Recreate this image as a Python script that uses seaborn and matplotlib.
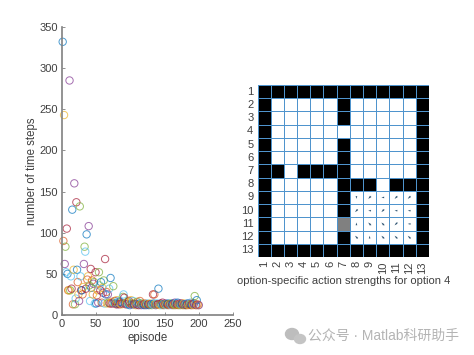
import matplotlib
matplotlib.use('Agg')
import matplotlib.pyplot as plt
from matplotlib.patches import Ellipse
import seaborn as sns
import numpy as np
import pandas as pd

sns.set_style('white')
plt.rcParams['font.family'] = ['Liberation Sans', 'Noto Sans CJK SC', 'DejaVu Sans']

# number of time steps for episodes 1..200
steps_1_40 = [332, 90, 243, 62, 83, 52, 105, 50, 30, 30,
              285, 30, 47, 32, 128, 13, 55, 160, 13, 20,
              137, 55, 40, 25, 17, 132, 47, 30, 30, 25,
              34, 62, 83, 77, 32, 98, 43, 47, 108, 36]
steps_41_80 = [17, 56, 33, 42, 25, 38, 40, 14, 52, 14,
               24, 30, 15, 52, 36, 30, 40, 15, 33, 27,
               42, 14, 68, 25, 28, 14, 25, 15, 32, 14,
               45, 14, 16, 14, 35, 15, 17, 14, 13, 18]
steps_81_120 = [13, 14, 17, 13, 16, 14, 13, 14, 22, 25,
                21, 14, 13, 15, 13, 16, 13, 17, 12, 14,
                18, 13, 14, 17, 13, 13, 14, 12, 13, 16,
                13, 12, 14, 17, 13, 12, 14, 13, 13, 12]
steps_121_160 = [14, 13, 12, 13, 14, 13, 12, 13, 14, 13,
                 12, 13, 25, 14, 25, 13, 12, 13, 14, 13,
                 32, 13, 12, 14, 13, 12, 15, 13, 12, 13,
                 14, 13, 12, 13, 14, 12, 13, 13, 14, 12]
steps_161_200 = [13, 14, 12, 13, 15, 12, 14, 13, 15, 12,
                 13, 14, 12, 13, 14, 13, 12, 14, 13, 12,
                 13, 12, 14, 13, 12, 14, 13, 15, 12, 13,
                 14, 12, 14, 23, 13, 12, 18, 13, 12, 12]
steps = steps_1_40 + steps_41_80 + steps_81_120 + steps_121_160 + steps_161_200
episodes = list(range(1, 201))
matlab_colors = ['#0072BD', '#D95319', '#EDB120', '#7E2F8E', '#77AC30', '#4DBEEE', '#A2142F']

# room map for option 4: 0 wall, 1 free, 0.5 the goal cell
room = [[0, 0, 0, 0, 0, 0, 0, 0, 0, 0, 0, 0, 0],
        [0, 1, 1, 1, 1, 1, 0, 1, 1, 1, 1, 1, 0],
        [0, 1, 1, 1, 1, 1, 0, 1, 1, 1, 1, 1, 0],
        [0, 1, 1, 1, 1, 1, 1, 1, 1, 1, 1, 1, 0],
        [0, 1, 1, 1, 1, 1, 0, 1, 1, 1, 1, 1, 0],
        [0, 1, 1, 1, 1, 1, 0, 1, 1, 1, 1, 1, 0],
        [0, 0, 1, 0, 0, 0, 0, 1, 1, 1, 1, 1, 0],
        [0, 1, 1, 1, 1, 1, 0, 0, 0, 1, 0, 0, 0],
        [0, 1, 1, 1, 1, 1, 0, 1, 1, 1, 1, 1, 0],
        [0, 1, 1, 1, 1, 1, 0, 1, 1, 1, 1, 1, 0],
        [0, 1, 1, 1, 1, 1, 0.5, 1, 1, 1, 1, 1, 0],
        [0, 1, 1, 1, 1, 1, 0, 1, 1, 1, 1, 1, 0],
        [0, 0, 0, 0, 0, 0, 0, 0, 0, 0, 0, 0, 0]]
grid_labels = [str(i) for i in range(1, 14)]

# action arrows in the lower right room
arrow_col = [8, 9, 10, 11, 12] * 4
arrow_row = [9] * 5 + [10] * 5 + [11] * 5 + [12] * 5
arrow_u = [0, -1, -1, -1, -1,
           -1, -1, -1, -1, -1,
           0, -1, -1, -1, -1,
           -1, 0, -1, -1, -1]
arrow_v = [-1, -1, 0, -1, -1,
           -1, 0, -1, 0, 0,
           1, 1, 1, -1, 0,
           1, 1, 1, 1, 1]

text_color = '#404040'
axis_color = '#808080'

fig = plt.figure(figsize=(4.74, 3.55), dpi=100)

# left: time steps per episode
ax = fig.add_axes([62 / 474, 1 - 315 / 355, 171 / 474, 288 / 355])
df = pd.DataFrame({'episode': episodes, 'steps': steps})
df['c'] = (df['episode'] - 1) % 7
sns.scatterplot(data=df, x='episode', y='steps', hue='c', palette=matlab_colors,
                legend=False, s=28, ax=ax, clip_on=False)
pts = ax.collections[0]
pts.set_edgecolors(pts.get_facecolors())
pts.set_facecolors('none')
pts.set_linewidths(0.7)
pts.set_alpha(0.7)
ax.set_xlim(0, 250)
ax.set_ylim(0, 350)
ax.set_xticks(range(0, 251, 50))
ax.set_yticks(range(0, 351, 50))
sns.despine(ax=ax)
for s in ['left', 'bottom']:
    ax.spines[s].set_color(axis_color)
    ax.spines[s].set_linewidth(1.2)
ax.tick_params(direction='in', length=2, width=0.6, color=axis_color,
               labelcolor=text_color, labelsize=8, pad=3, left=True, bottom=True)
ax.set_xlabel('episode', fontsize=8.3, color=text_color, labelpad=2)
ax.set_ylabel('number of time steps', fontsize=8.3, color=text_color, labelpad=1)

# right: option-specific action strengths
ax2 = fig.add_axes([257.5 / 474, 1 - 257 / 355, 171.5 / 474, 172 / 355])
sns.heatmap(np.array(room), cmap='gray', vmin=0, vmax=1, cbar=False, linewidths=0.55,
            linecolor='#4F94CD', xticklabels=grid_labels, yticklabels=grid_labels, ax=ax2)
ax2.quiver(np.array(arrow_col) - 0.5, np.array(arrow_row) - 0.5, arrow_u, arrow_v,
           color='#2f5573', angles='uv', scale=60, width=0.004, headwidth=3, pivot='mid')
ax2.tick_params(length=0, labelsize=8, labelcolor=text_color, pad=3)
ax2.set_yticklabels(grid_labels, rotation=0)
ax2.set_xticklabels(grid_labels, rotation=90)
ax2.set_xlabel('option-specific action strengths for option 4', fontsize=8.05,
               color=text_color, labelpad=2)

# watermark
fig.text(308 / 474, 1 - 336 / 355, '公众号 · Matlab科研助手', fontsize=10, color='#b4b4b4',
         va='center', ha='left')
fig.add_artist(Ellipse((292 / 474, 1 - 334 / 355), 13 / 474, 11 / 355, color='#bdbdbd',
                       transform=fig.transFigure))
fig.add_artist(Ellipse((300 / 474, 1 - 339 / 355), 11 / 474, 9 / 355, color='#c4c4c4',
                       transform=fig.transFigure))

fig.savefig('out.png', dpi=100)
